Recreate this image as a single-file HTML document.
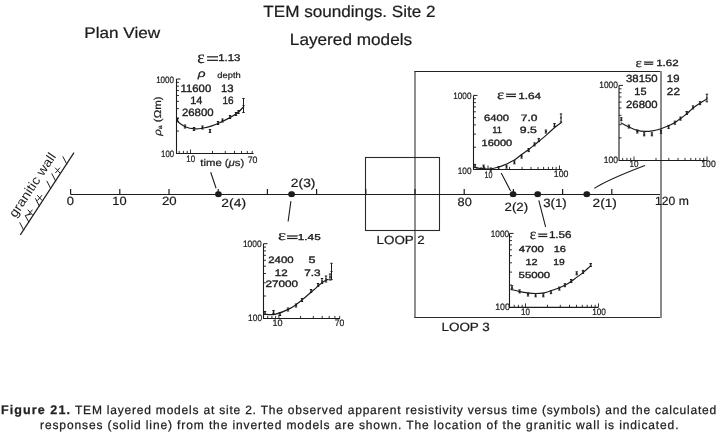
<!DOCTYPE html>
<html><head><meta charset="utf-8"><style>
html,body{margin:0;padding:0;background:#fff;}
body{width:718px;height:433px;overflow:hidden;position:relative;font-family:"Liberation Sans",sans-serif;}
svg{position:absolute;left:0;top:0;will-change:transform;}
.cap{will-change:transform;}
.cap{position:absolute;white-space:nowrap;font-size:12px;line-height:15px;color:#222;-webkit-text-stroke:0.25px #222;text-rendering:geometricPrecision;}
</style></head><body>
<svg width="718" height="400" viewBox="0 0 718 400" text-rendering="geometricPrecision" font-family='"Liberation Sans", sans-serif' fill="#1c1c1c" stroke="#1c1c1c" stroke-width="0.22">
<text x="263.26" y="16.70" font-size="16.30" textLength="172.28" lengthAdjust="spacingAndGlyphs" >TEM soundings. Site 2</text>
<text x="289.86" y="44.70" font-size="16.30" textLength="122.28" lengthAdjust="spacingAndGlyphs" >Layered models</text>
<text x="84.22" y="38.30" font-size="15.40" textLength="76.06" lengthAdjust="spacingAndGlyphs" >Plan View</text>
<path d="M414.4,71.5 H661.5" stroke="#222" stroke-width="1.1"/>
<path d="M414.4,317.5 H661.5" stroke="#2a2a2a" stroke-width="1.2"/>
<path d="M415,71 V318" stroke="#333" stroke-width="1.1"/>
<path d="M661,71 V318" stroke="#8a8a8a" stroke-width="2"/>
<rect x="365.5" y="157.5" width="74" height="73" fill="none" stroke="#2a2a2a" stroke-width="1.1"/>
<text x="376.56" y="243.50" font-size="12.00" textLength="48.08" lengthAdjust="spacingAndGlyphs" >LOOP 2</text>
<text x="441.46" y="331.00" font-size="12.00" textLength="48.38" lengthAdjust="spacingAndGlyphs" >LOOP 3</text>
<path d="M70.6,194.5 H660 M70.6,194.5 V189 M119.8,194.5 V189 M169.0,194.5 V189 M218.2,194.5 V189 M267.4,194.5 V189 M316.6,194.5 V189 M365.8,194.5 V189 M415.0,194.5 V189 M464.2,194.5 V189 M513.4,194.5 V189 M562.6,194.5 V189 M611.8,194.5 V189" fill="none" stroke="#1c1c1c" stroke-width="1.2"/>
<text x="66.66" y="205.30" font-size="12.00" textLength="7.18" lengthAdjust="spacingAndGlyphs" >0</text>
<text x="112.26" y="205.30" font-size="12.00" textLength="14.28" lengthAdjust="spacingAndGlyphs" >10</text>
<text x="161.96" y="205.30" font-size="12.00" textLength="14.68" lengthAdjust="spacingAndGlyphs" >20</text>
<text x="457.56" y="205.50" font-size="12.00" textLength="14.18" lengthAdjust="spacingAndGlyphs" >80</text>
<text x="655.06" y="205.10" font-size="12.00" textLength="33.78" lengthAdjust="spacingAndGlyphs" >120 m</text>
<ellipse cx="218.4" cy="194.2" rx="3.3" ry="2.9"/>
<ellipse cx="291.6" cy="194.2" rx="3.3" ry="2.9"/>
<ellipse cx="513.1" cy="194.2" rx="3.3" ry="2.9"/>
<ellipse cx="537.7" cy="194.2" rx="3.3" ry="2.9"/>
<ellipse cx="586.8" cy="194.2" rx="3.3" ry="2.9"/>
<text x="221.36" y="206.70" font-size="12.00" textLength="24.68" lengthAdjust="spacingAndGlyphs" >2(4)</text>
<text x="290.86" y="186.60" font-size="12.00" textLength="24.58" lengthAdjust="spacingAndGlyphs" >2(3)</text>
<text x="504.56" y="210.60" font-size="12.00" textLength="23.58" lengthAdjust="spacingAndGlyphs" >2(2)</text>
<text x="543.16" y="206.50" font-size="12.00" textLength="23.58" lengthAdjust="spacingAndGlyphs" >3(1)</text>
<text x="592.56" y="207.40" font-size="12.00" textLength="24.28" lengthAdjust="spacingAndGlyphs" >2(1)</text>
<path d="M210.7,172.3 L216.1,188.3 M290.9,201.2 L288.1,221.5 M501.2,173.1 L510.6,190.9 M538.8,200.3 L545.6,226.8 M594.3,188.4 C605,181 625,173 644.9,165.4" fill="none" stroke="#1c1c1c" stroke-width="1.1"/>
<path d="M176.5,79.0 V153.5 H253.6" fill="none" stroke="#1c1c1c" stroke-width="1.1"/>
<path d="M176.5,79.0 h4" stroke="#1c1c1c" stroke-width="1"/>
<path d="M176.5,131.1 h2.5 M176.5,118.0 h2.5 M176.5,108.6 h2.5 M176.5,101.4 h2.5 M176.5,95.5 h2.5 M176.5,90.5 h2.5 M176.5,86.2 h2.5 M176.5,82.4 h2.5 M179.2,153.5 v-2.6 M183.4,153.5 v-2.6 M187.2,153.5 v-2.6 M190.5,153.5 v-4.0 M212.5,153.5 v-2.6 M225.3,153.5 v-2.6 M234.5,153.5 v-2.6 M241.5,153.5 v-2.6 M247.3,153.5 v-2.6 M252.2,153.5 v-2.6 " stroke="#1c1c1c" stroke-width="0.9"/>
<text x="156.15" y="83.00" font-size="9.30" textLength="17.90" lengthAdjust="spacingAndGlyphs" >1000</text>
<text x="161.05" y="156.80" font-size="9.30" textLength="13.00" lengthAdjust="spacingAndGlyphs" >100</text>
<text x="186.35" y="161.60" font-size="9.30" textLength="8.80" lengthAdjust="spacingAndGlyphs" >10</text>
<text x="247.65" y="163.40" font-size="9.30" textLength="9.80" lengthAdjust="spacingAndGlyphs" >70</text>
<path d="M176.8,120.9 C178.2,121.9 182.1,125.4 185.1,126.7 C188.1,128.0 192.0,128.7 195.1,128.9 C198.2,129.1 200.7,128.5 203.5,128.0 C206.3,127.5 209.1,126.8 211.9,125.9 C214.7,125.0 217.4,123.8 220.2,122.5 C223.0,121.2 225.8,119.9 228.6,118.4 C231.4,116.9 234.3,115.3 236.9,113.3 C239.5,111.3 242.9,107.5 244.1,106.3" fill="none" stroke="#1c1c1c" stroke-width="1.2"/>
<path d="M177.5,118.5 v3.0 M176.3,118.5 h2.4 M176.3,121.5 h2.4 M176.5,120.0 h2 M185.0,125.0 v3.0 M183.8,125.0 h2.4 M183.8,128.0 h2.4 M184.0,126.5 h2 M194.0,127.5 v3.0 M192.8,127.5 h2.4 M192.8,130.5 h2.4 M193.0,129.0 h2 M202.5,126.0 v3.0 M201.3,126.0 h2.4 M201.3,129.0 h2.4 M201.5,127.5 h2 M210.0,129.5 v3.0 M208.8,129.5 h2.4 M208.8,132.5 h2.4 M209.0,131.0 h2 M218.0,121.5 v3.0 M216.8,121.5 h2.4 M216.8,124.5 h2.4 M217.0,123.0 h2 M222.5,119.0 v3.0 M221.3,119.0 h2.4 M221.3,122.0 h2.4 M221.5,120.5 h2 M230.0,115.5 v3.0 M228.8,115.5 h2.4 M228.8,118.5 h2.4 M229.0,117.0 h2 M236.0,112.5 v3.0 M234.8,112.5 h2.4 M234.8,115.5 h2.4 M235.0,114.0 h2 M238.5,110.5 v3.0 M237.3,110.5 h2.4 M237.3,113.5 h2.4 M237.5,112.0 h2 M243.5,98.5 v14.0 M242.3,98.5 h2.4 M242.3,112.5 h2.4 M242.5,105.5 h2 " stroke="#1c1c1c" stroke-width="1"/>
<text x="180.56" y="91.80" font-size="10.60" textLength="30.68" lengthAdjust="spacingAndGlyphs" stroke="#1c1c1c" stroke-width="0.35">11600</text>
<text x="220.96" y="91.80" font-size="10.60" textLength="12.68" lengthAdjust="spacingAndGlyphs" stroke="#1c1c1c" stroke-width="0.35">13</text>
<text x="190.26" y="104.00" font-size="10.60" textLength="12.18" lengthAdjust="spacingAndGlyphs" stroke="#1c1c1c" stroke-width="0.35">14</text>
<text x="222.46" y="104.00" font-size="10.60" textLength="11.18" lengthAdjust="spacingAndGlyphs" stroke="#1c1c1c" stroke-width="0.35">16</text>
<text x="181.96" y="116.20" font-size="10.60" textLength="31.68" lengthAdjust="spacingAndGlyphs" stroke="#1c1c1c" stroke-width="0.35">26800</text>
<text x="197.36" y="62.60" font-size="18.04" textLength="7.38" lengthAdjust="spacingAndGlyphs" font-family="Liberation Serif">&#949;</text>
<rect x="207.2" y="56.30" width="10.7" height="1.00"/><rect x="207.2" y="59.90" width="10.7" height="1.00"/>
<text x="218.21" y="61.20" font-size="9.80" textLength="22.27" lengthAdjust="spacingAndGlyphs" stroke="#1c1c1c" stroke-width="0.32">1.13</text>
<path d="M263.5,243.7 V318.5 H340.0" fill="none" stroke="#1c1c1c" stroke-width="1.1"/>
<path d="M263.5,243.7 h4" stroke="#1c1c1c" stroke-width="1"/>
<path d="M263.5,296.0 h2.5 M263.5,282.8 h2.5 M263.5,273.5 h2.5 M263.5,266.2 h2.5 M263.5,260.3 h2.5 M263.5,255.3 h2.5 M263.5,250.9 h2.5 M263.5,247.1 h2.5 M267.7,318.5 v-2.6 M271.9,318.5 v-2.6 M275.6,318.5 v-2.6 M278.9,318.5 v-4.0 M300.6,318.5 v-2.6 M313.3,318.5 v-2.6 M322.2,318.5 v-2.6 M329.2,318.5 v-2.6 M334.9,318.5 v-2.6 M339.7,318.5 v-2.6 " stroke="#1c1c1c" stroke-width="0.9"/>
<text x="242.95" y="247.20" font-size="9.30" textLength="18.70" lengthAdjust="spacingAndGlyphs" >1000</text>
<text x="248.05" y="321.00" font-size="9.30" textLength="14.00" lengthAdjust="spacingAndGlyphs" >100</text>
<text x="272.55" y="326.00" font-size="9.30" textLength="10.10" lengthAdjust="spacingAndGlyphs" >10</text>
<text x="334.65" y="326.00" font-size="9.30" textLength="9.60" lengthAdjust="spacingAndGlyphs" >70</text>
<path d="M264.2,314.3 C266.0,314.3 270.7,315.3 275.0,314.3 C279.3,313.3 285.7,310.8 290.2,308.4 C294.7,306.0 298.0,303.1 301.9,300.0 C305.8,296.9 310.1,293.0 313.6,290.0 C317.1,287.0 320.5,283.8 323.0,282.0 C325.5,280.2 327.7,279.7 328.6,279.2" fill="none" stroke="#1c1c1c" stroke-width="1.2"/>
<path d="M265.0,311.5 v3.0 M263.8,311.5 h2.4 M263.8,314.5 h2.4 M264.0,313.0 h2 M273.5,310.5 v3.0 M272.3,310.5 h2.4 M272.3,313.5 h2.4 M272.5,312.0 h2 M280.0,312.5 v3.0 M278.8,312.5 h2.4 M278.8,315.5 h2.4 M279.0,314.0 h2 M288.0,308.0 v3.0 M286.8,308.0 h2.4 M286.8,311.0 h2.4 M287.0,309.5 h2 M296.0,304.0 v3.0 M294.8,304.0 h2.4 M294.8,307.0 h2.4 M295.0,305.5 h2 M302.0,298.5 v3.0 M300.8,298.5 h2.4 M300.8,301.5 h2.4 M301.0,300.0 h2 M311.0,289.5 v3.0 M309.8,289.5 h2.4 M309.8,292.5 h2.4 M310.0,291.0 h2 M318.0,283.5 v3.0 M316.8,283.5 h2.4 M316.8,286.5 h2.4 M317.0,285.0 h2 M322.0,278.5 v5.0 M320.8,278.5 h2.4 M320.8,283.5 h2.4 M321.0,281.0 h2 M326.0,276.0 v6.0 M324.8,276.0 h2.4 M324.8,282.0 h2.4 M325.0,279.0 h2 M330.0,274.0 v6.0 M328.8,274.0 h2.4 M328.8,280.0 h2.4 M329.0,277.0 h2 M331.5,263.3 v16.4 M330.3,263.3 h2.4 M330.3,279.7 h2.4 M330.5,271.5 h2 " stroke="#1c1c1c" stroke-width="1"/>
<text x="268.24" y="262.60" font-size="9.40" textLength="25.32" lengthAdjust="spacingAndGlyphs" stroke="#1c1c1c" stroke-width="0.35">2400</text>
<text x="308.44" y="262.60" font-size="9.40" textLength="7.02" lengthAdjust="spacingAndGlyphs" stroke="#1c1c1c" stroke-width="0.35">5</text>
<text x="274.74" y="275.70" font-size="9.40" textLength="12.82" lengthAdjust="spacingAndGlyphs" stroke="#1c1c1c" stroke-width="0.35">12</text>
<text x="304.24" y="275.70" font-size="9.40" textLength="16.42" lengthAdjust="spacingAndGlyphs" stroke="#1c1c1c" stroke-width="0.35">7.3</text>
<text x="265.54" y="287.40" font-size="9.40" textLength="32.62" lengthAdjust="spacingAndGlyphs" stroke="#1c1c1c" stroke-width="0.35">27000</text>
<text x="277.96" y="240.40" font-size="14.57" textLength="7.97" lengthAdjust="spacingAndGlyphs" font-family="Liberation Serif">&#949;</text>
<rect x="287.1" y="235.50" width="10.5" height="1.00"/><rect x="287.1" y="238.00" width="10.5" height="1.00"/>
<text x="297.80" y="239.70" font-size="8.60" textLength="22.90" lengthAdjust="spacingAndGlyphs" stroke="#1c1c1c" stroke-width="0.32">1.45</text>
<path d="M473.5,95.4 V169.5 H562.0" fill="none" stroke="#1c1c1c" stroke-width="1.1"/>
<path d="M473.5,95.4 h4" stroke="#1c1c1c" stroke-width="1"/>
<path d="M473.5,147.2 h2.5 M473.5,134.1 h2.5 M473.5,124.9 h2.5 M473.5,117.7 h2.5 M473.5,111.8 h2.5 M473.5,106.9 h2.5 M473.5,102.6 h2.5 M473.5,98.8 h2.5 M476.9,169.5 v-2.6 M481.1,169.5 v-2.6 M484.7,169.5 v-2.6 M488.0,169.5 v-4.0 M509.5,169.5 v-2.6 M522.1,169.5 v-2.6 M531.0,169.5 v-2.6 M538.0,169.5 v-2.6 M543.6,169.5 v-2.6 M548.4,169.5 v-2.6 M552.6,169.5 v-2.6 M556.2,169.5 v-2.6 M559.5,169.5 v-4.0 " stroke="#1c1c1c" stroke-width="0.9"/>
<text x="453.25" y="99.30" font-size="9.30" textLength="18.20" lengthAdjust="spacingAndGlyphs" >1000</text>
<text x="457.75" y="173.80" font-size="9.30" textLength="13.80" lengthAdjust="spacingAndGlyphs" >100</text>
<text x="484.45" y="177.70" font-size="9.30" textLength="8.00" lengthAdjust="spacingAndGlyphs" >10</text>
<text x="553.85" y="176.80" font-size="9.30" textLength="14.60" lengthAdjust="spacingAndGlyphs" >100</text>
<path d="M474.3,167.3 C475.5,167.5 478.9,168.4 481.5,168.7 C484.1,169.0 487.1,169.3 490.0,169.0 C492.9,168.7 495.8,167.9 498.7,167.0 C501.6,166.1 504.6,164.8 507.2,163.7 C509.8,162.5 512.0,161.6 514.4,160.1 C516.8,158.6 519.2,156.2 521.6,154.4 C524.0,152.6 526.3,151.2 528.7,149.4 C531.1,147.6 533.5,145.6 535.9,143.7 C538.3,141.8 540.7,139.9 543.1,137.9 C545.5,135.9 548.1,133.4 550.2,131.5 C552.4,129.6 554.1,128.1 556.0,126.5 C557.9,125.0 560.8,122.9 561.7,122.2" fill="none" stroke="#1c1c1c" stroke-width="1.2"/>
<path d="M475.0,164.4 v3.0 M473.8,164.4 h2.4 M473.8,167.4 h2.4 M474.0,165.9 h2 M483.6,165.1 v3.0 M482.4,165.1 h2.4 M482.4,168.1 h2.4 M482.6,166.6 h2 M490.8,168.0 v3.0 M489.6,168.0 h2.4 M489.6,171.0 h2.4 M489.8,169.5 h2 M498.7,166.5 v3.0 M497.5,166.5 h2.4 M497.5,169.5 h2.4 M497.7,168.0 h2 M506.5,165.1 v3.0 M505.3,165.1 h2.4 M505.3,168.1 h2.4 M505.5,166.6 h2 M514.4,160.8 v3.0 M513.2,160.8 h2.4 M513.2,163.8 h2.4 M513.4,162.3 h2 M521.6,155.1 v3.0 M520.4,155.1 h2.4 M520.4,158.1 h2.4 M520.6,156.6 h2 M528.7,148.6 v3.0 M527.5,148.6 h2.4 M527.5,151.6 h2.4 M527.7,150.1 h2 M534.5,142.9 v3.0 M533.3,142.9 h2.4 M533.3,145.9 h2.4 M533.5,144.4 h2 M538.8,138.6 v3.0 M537.6,138.6 h2.4 M537.6,141.6 h2.4 M537.8,140.1 h2 M545.9,130.0 v3.0 M544.7,130.0 h2.4 M544.7,133.0 h2.4 M544.9,131.5 h2 M554.5,123.5 v3.0 M553.3,123.5 h2.4 M553.3,126.5 h2.4 M553.5,125.0 h2 M561.0,113.9 v8.0 M559.8,113.9 h2.4 M559.8,121.9 h2.4 M560.0,117.9 h2 " stroke="#1c1c1c" stroke-width="1"/>
<text x="484.06" y="121.10" font-size="9.20" textLength="24.89" lengthAdjust="spacingAndGlyphs" stroke="#1c1c1c" stroke-width="0.35">6400</text>
<text x="520.76" y="121.10" font-size="9.20" textLength="16.69" lengthAdjust="spacingAndGlyphs" stroke="#1c1c1c" stroke-width="0.35">7.0</text>
<text x="492.26" y="133.20" font-size="9.20" textLength="9.69" lengthAdjust="spacingAndGlyphs" stroke="#1c1c1c" stroke-width="0.35">11</text>
<text x="519.86" y="133.20" font-size="9.20" textLength="17.09" lengthAdjust="spacingAndGlyphs" stroke="#1c1c1c" stroke-width="0.35">9.5</text>
<text x="481.56" y="145.80" font-size="9.20" textLength="30.69" lengthAdjust="spacingAndGlyphs" stroke="#1c1c1c" stroke-width="0.35">16000</text>
<text x="497.09" y="98.80" font-size="13.70" textLength="7.12" lengthAdjust="spacingAndGlyphs" font-family="Liberation Serif">&#949;</text>
<rect x="506.3" y="93.80" width="9.6" height="1.00"/><rect x="506.3" y="96.00" width="9.6" height="1.00"/>
<text x="518.17" y="98.60" font-size="9.00" textLength="23.06" lengthAdjust="spacingAndGlyphs" stroke="#1c1c1c" stroke-width="0.32">1.64</text>
<path d="M619.0,85.4 V160.5 H707.2" fill="none" stroke="#1c1c1c" stroke-width="1.1"/>
<path d="M619.0,85.4 h4" stroke="#1c1c1c" stroke-width="1"/>
<path d="M619.0,137.9 h2.5 M619.0,124.7 h2.5 M619.0,115.3 h2.5 M619.0,108.0 h2.5 M619.0,102.1 h2.5 M619.0,97.0 h2.5 M619.0,92.7 h2.5 M619.0,88.8 h2.5 M622.7,160.5 v-2.6 M626.9,160.5 v-2.6 M630.7,160.5 v-2.6 M634.0,160.5 v-4.0 M656.0,160.5 v-2.6 M668.8,160.5 v-2.6 M678.0,160.5 v-2.6 M685.0,160.5 v-2.6 M690.8,160.5 v-2.6 M695.7,160.5 v-2.6 M699.9,160.5 v-2.6 M703.7,160.5 v-2.6 M707.0,160.5 v-4.0 " stroke="#1c1c1c" stroke-width="0.9"/>
<text x="599.25" y="88.10" font-size="9.30" textLength="18.60" lengthAdjust="spacingAndGlyphs" >1000</text>
<text x="603.75" y="163.10" font-size="9.30" textLength="14.20" lengthAdjust="spacingAndGlyphs" >100</text>
<text x="629.45" y="167.40" font-size="9.30" textLength="9.00" lengthAdjust="spacingAndGlyphs" >10</text>
<text x="701.35" y="167.40" font-size="9.30" textLength="14.30" lengthAdjust="spacingAndGlyphs" >100</text>
<path d="M620.6,122.7 C622.0,123.4 626.1,125.6 628.9,126.9 C631.7,128.2 634.5,129.7 637.3,130.4 C640.1,131.2 643.0,131.3 645.6,131.4 C648.2,131.5 650.0,131.2 652.6,130.8 C655.2,130.4 658.0,129.7 661.0,128.7 C664.0,127.7 667.9,126.1 670.7,124.8 C673.5,123.5 675.2,122.3 677.7,120.6 C680.2,118.9 683.5,116.5 686.0,114.4 C688.5,112.3 690.7,110.0 693.0,108.1 C695.3,106.2 697.7,104.7 700.0,103.2 C702.3,101.7 705.8,99.8 706.9,99.1" fill="none" stroke="#1c1c1c" stroke-width="1.2"/>
<path d="M621.3,117.7 v3.0 M620.1,117.7 h2.4 M620.1,120.7 h2.4 M620.3,119.2 h2 M628.9,125.0 v3.0 M627.7,125.0 h2.4 M627.7,128.0 h2.4 M627.9,126.5 h2 M637.3,130.0 v3.0 M636.1,130.0 h2.4 M636.1,133.0 h2.4 M636.3,131.5 h2 M644.2,132.8 v3.0 M643.0,132.8 h2.4 M643.0,135.8 h2.4 M643.2,134.3 h2 M651.9,132.8 v3.0 M650.7,132.8 h2.4 M650.7,135.8 h2.4 M650.9,134.3 h2 M661.0,130.3 v3.0 M659.8,130.3 h2.4 M659.8,133.3 h2.4 M660.0,131.8 h2 M668.6,125.4 v3.0 M667.4,125.4 h2.4 M667.4,128.4 h2.4 M667.6,126.9 h2 M674.9,121.2 v3.0 M673.7,121.2 h2.4 M673.7,124.2 h2.4 M673.9,122.7 h2 M680.5,117.1 v3.0 M679.3,117.1 h2.4 M679.3,120.1 h2.4 M679.5,118.6 h2 M686.7,111.5 v3.0 M685.5,111.5 h2.4 M685.5,114.5 h2.4 M685.7,113.0 h2 M693.0,105.9 v3.0 M691.8,105.9 h2.4 M691.8,108.9 h2.4 M692.0,107.4 h2 M700.0,101.7 v3.0 M698.8,101.7 h2.4 M698.8,104.7 h2.4 M699.0,103.2 h2 M706.9,94.2 v7.6 M705.7,94.2 h2.4 M705.7,101.8 h2.4 M705.9,98.0 h2 " stroke="#1c1c1c" stroke-width="1"/>
<text x="626.07" y="82.40" font-size="10.40" textLength="31.56" lengthAdjust="spacingAndGlyphs" stroke="#1c1c1c" stroke-width="0.35">38150</text>
<text x="666.87" y="82.10" font-size="10.40" textLength="12.56" lengthAdjust="spacingAndGlyphs" stroke="#1c1c1c" stroke-width="0.35">19</text>
<text x="634.37" y="94.70" font-size="10.40" textLength="12.16" lengthAdjust="spacingAndGlyphs" stroke="#1c1c1c" stroke-width="0.35">15</text>
<text x="666.87" y="94.70" font-size="10.40" textLength="13.06" lengthAdjust="spacingAndGlyphs" stroke="#1c1c1c" stroke-width="0.35">22</text>
<text x="626.07" y="108.30" font-size="10.40" textLength="31.56" lengthAdjust="spacingAndGlyphs" stroke="#1c1c1c" stroke-width="0.35">26800</text>
<text x="635.52" y="66.70" font-size="12.83" textLength="6.27" lengthAdjust="spacingAndGlyphs" font-family="Liberation Serif">&#949;</text>
<rect x="644.3" y="61.70" width="8.8" height="1.00"/><rect x="644.3" y="63.80" width="8.8" height="1.00"/>
<text x="656.17" y="66.40" font-size="9.00" textLength="22.46" lengthAdjust="spacingAndGlyphs" stroke="#1c1c1c" stroke-width="0.32">1.62</text>
<path d="M509.5,233.4 V307.4 H598.3" fill="none" stroke="#1c1c1c" stroke-width="1.1"/>
<path d="M509.5,233.4 h4" stroke="#1c1c1c" stroke-width="1"/>
<path d="M509.5,285.1 h2.5 M509.5,272.1 h2.5 M509.5,262.8 h2.5 M509.5,255.7 h2.5 M509.5,249.8 h2.5 M509.5,244.9 h2.5 M509.5,240.6 h2.5 M509.5,236.8 h2.5 M514.2,307.4 v-2.6 M518.4,307.4 v-2.6 M522.2,307.4 v-2.6 M525.5,307.4 v-4.0 M547.5,307.4 v-2.6 M560.3,307.4 v-2.6 M569.5,307.4 v-2.6 M576.5,307.4 v-2.6 M582.3,307.4 v-2.6 M587.2,307.4 v-2.6 M591.4,307.4 v-2.6 M595.2,307.4 v-2.6 M598.5,307.4 v-4.0 " stroke="#1c1c1c" stroke-width="0.9"/>
<text x="490.75" y="236.70" font-size="9.30" textLength="18.30" lengthAdjust="spacingAndGlyphs" >1000</text>
<text x="495.15" y="310.10" font-size="9.30" textLength="14.70" lengthAdjust="spacingAndGlyphs" >100</text>
<text x="521.05" y="315.20" font-size="9.30" textLength="8.90" lengthAdjust="spacingAndGlyphs" >10</text>
<text x="592.15" y="315.20" font-size="9.30" textLength="13.80" lengthAdjust="spacingAndGlyphs" >100</text>
<path d="M510.6,289.3 C512.0,289.6 516.1,290.8 518.9,291.4 C521.7,292.0 524.5,292.4 527.3,292.8 C530.1,293.2 532.8,293.5 535.6,293.5 C538.4,293.5 541.2,293.3 544.0,292.8 C546.8,292.3 549.6,291.2 552.4,290.3 C555.2,289.4 558.2,288.3 560.7,287.2 C563.2,286.1 565.4,285.2 567.7,283.8 C570.0,282.4 572.1,280.8 574.6,278.9 C577.1,277.0 580.4,274.7 583.0,272.6 C585.6,270.5 588.8,267.4 590.0,266.4" fill="none" stroke="#1c1c1c" stroke-width="1.2"/>
<path d="M512.0,285.7 v3.0 M510.8,285.7 h2.4 M510.8,288.7 h2.4 M511.0,287.2 h2 M519.6,289.9 v3.0 M518.4,289.9 h2.4 M518.4,292.9 h2.4 M518.6,291.4 h2 M528.0,293.0 v3.0 M526.8,293.0 h2.4 M526.8,296.0 h2.4 M527.0,294.5 h2 M535.6,293.8 v3.0 M534.4,293.8 h2.4 M534.4,296.8 h2.4 M534.6,295.3 h2 M543.3,293.8 v3.0 M542.1,293.8 h2.4 M542.1,296.8 h2.4 M542.3,295.3 h2 M551.0,290.6 v3.0 M549.8,290.6 h2.4 M549.8,293.6 h2.4 M550.0,292.1 h2 M559.3,287.1 v3.0 M558.1,287.1 h2.4 M558.1,290.1 h2.4 M558.3,288.6 h2 M564.9,283.7 v3.0 M563.7,283.7 h2.4 M563.7,286.7 h2.4 M563.9,285.2 h2 M571.2,279.5 v3.0 M570.0,279.5 h2.4 M570.0,282.5 h2.4 M570.2,281.0 h2 M576.7,271.8 v3.0 M575.5,271.8 h2.4 M575.5,274.8 h2.4 M575.7,273.3 h2 M583.0,270.4 v3.0 M581.8,270.4 h2.4 M581.8,273.4 h2.4 M582.0,271.9 h2 M590.7,263.5 v3.0 M589.5,263.5 h2.4 M589.5,266.5 h2.4 M589.7,265.0 h2 " stroke="#1c1c1c" stroke-width="1"/>
<text x="518.78" y="252.20" font-size="8.80" textLength="25.03" lengthAdjust="spacingAndGlyphs" stroke="#1c1c1c" stroke-width="0.35">4700</text>
<text x="553.68" y="252.20" font-size="8.80" textLength="12.23" lengthAdjust="spacingAndGlyphs" stroke="#1c1c1c" stroke-width="0.35">16</text>
<text x="525.48" y="264.60" font-size="8.80" textLength="12.13" lengthAdjust="spacingAndGlyphs" stroke="#1c1c1c" stroke-width="0.35">12</text>
<text x="553.18" y="264.60" font-size="8.80" textLength="11.43" lengthAdjust="spacingAndGlyphs" stroke="#1c1c1c" stroke-width="0.35">19</text>
<text x="518.58" y="277.80" font-size="8.80" textLength="31.63" lengthAdjust="spacingAndGlyphs" stroke="#1c1c1c" stroke-width="0.35">55000</text>
<text x="529.74" y="239.40" font-size="15.43" textLength="6.53" lengthAdjust="spacingAndGlyphs" font-family="Liberation Serif">&#949;</text>
<rect x="538.5" y="233.70" width="8.6" height="1.00"/><rect x="538.5" y="236.00" width="8.6" height="1.00"/>
<text x="548.90" y="238.40" font-size="10.00" textLength="22.70" lengthAdjust="spacingAndGlyphs" stroke="#1c1c1c" stroke-width="0.32">1.56</text>
<text x="197.66" y="77.40" font-size="10.50" textLength="7.77" lengthAdjust="spacingAndGlyphs" font-style="italic">&#961;</text>
<text x="217.31" y="78.00" font-size="8.40" textLength="23.38" lengthAdjust="spacingAndGlyphs" >depth</text>
<text x="200.31" y="166.20" font-size="9.80" textLength="43.97" lengthAdjust="spacingAndGlyphs" >time (<tspan font-style="italic">&#956;</tspan>s)</text>
<g transform="translate(160.8,135.7) rotate(-90)"><text x="0" y="0" font-size="10" textLength="39.3" lengthAdjust="spacingAndGlyphs" stroke="#1c1c1c" stroke-width="0.2"><tspan font-style="italic">&#961;</tspan><tspan font-size="6" dy="1.5">a</tspan><tspan dy="-1.5"> (&#937;m)</tspan></text></g>
<path d="M20.3,234.9 L74,152.7" stroke="#1c1c1c" stroke-width="1.2"/>
<text transform="translate(15.6,218.2) rotate(-56.5)" font-size="12.8" textLength="74" lengthAdjust="spacingAndGlyphs" stroke-width="0">granitic wall</text>
<path d="M23.8,230.4 L19.7,222.4 M29.0,222.4 L25.2,215.5 L31.2,214.0 M27.7,209.7 l5,5.4 M32.5,209.7 l-4.6,5.4 M39.5,206.4 L35.4,198.4 M37.2,195.2 l5,5.4 M42.0,195.2 l-4.6,5.4 M50.9,188.9 L46.8,180.9 M55.8,181.4 L51.7,173.4 M55.1,167.7 l5,5.4 M59.9,167.7 l-4.6,5.4 M66.9,164.4 L62.8,156.4 " stroke="#1c1c1c" stroke-width="1" fill="none"/>
</svg>
<div class="cap" style="left:1px;top:402.7px;letter-spacing:0.795px;"><b style="letter-spacing:1.1px;font-size:12.5px">Figure 21.</b> TEM layered models at site 2. The observed apparent resistivity versus time (symbols) and the calculated</div>
<div class="cap" style="left:39.5px;top:417.7px;letter-spacing:0.887px;">responses (solid line) from the inverted models are shown. The location of the granitic wall is indicated.</div>
</body></html>
